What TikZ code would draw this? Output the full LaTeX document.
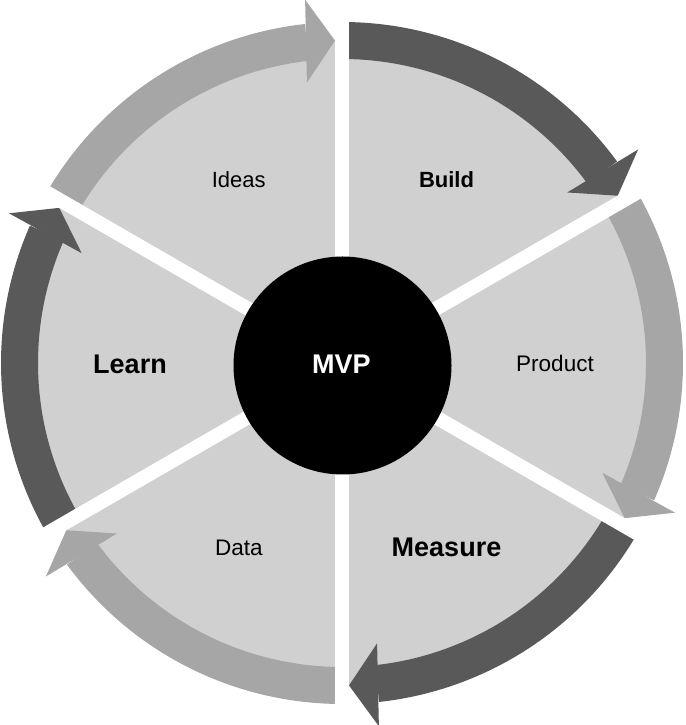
\documentclass[tikz,border=0pt]{standalone}
\usepackage{fontspec}
\setmainfont{Liberation Sans}
\usetikzlibrary{calc}
\definecolor{sectorgrey}{HTML}{D0D0D0}
\definecolor{bandlight}{HTML}{A6A6A6}
\definecolor{banddark}{HTML}{595959}
\newcommand{\Ro}{341}
\newcommand{\Ri}{304}
\newcommand{\Rm}{322.5}
\newcommand{\cyclearrow}[3]{%
  \pgfmathsetmacro\tipA{#2+1.244}%
  \pgfmathsetmacro\endA{#2+1.244+5}%
  \fill[#3] (#1:\Ro) arc[start angle=#1, end angle=\endA, radius=\Ro]
     -- (\endA:\Ri) arc[start angle=\endA, end angle=#1, radius=\Ri] -- cycle;
  \coordinate (tip) at (\tipA:\Rm);
  \coordinate (hb) at ($(tip)+(\tipA+90:29)$);
  \fill[#3] (tip) -- ($(hb)+(\tipA:41.5)$) -- ($(hb)+(\tipA+180:41.5)$) -- cycle;
}
\tikzset{
  lbl/.style={inner sep=0pt, anchor=base, text=black},
  small/.style={lbl, font=\fontsize{22pt}{26pt}\selectfont},
  smallb/.style={lbl, font=\fontsize{22pt}{26pt}\selectfont\bfseries},
  big/.style={lbl, font=\fontsize{27pt}{32pt}\selectfont\bfseries},
}
\begin{document}
\begin{tikzpicture}[x=1pt,y=1pt]
\useasboundingbox (0,0) rectangle (685,725);
\begin{scope}[shift={(342,362)}]
  % light grey disk (sectors)
  \fill[sectorgrey] (0,0) circle[radius=\Rm];
  % arrow bands
  \cyclearrow{150}{90}{bandlight}
  \cyclearrow{90}{30}{banddark}
  \cyclearrow{30}{-30}{bandlight}
  \cyclearrow{-30}{-90}{banddark}
  \cyclearrow{-90}{-150}{bandlight}
  \cyclearrow{210}{150}{banddark}
  % white gaps
  \foreach \a in {90,30,-30,-90,-150,150}
    \fill[white, rotate=\a] (0,-7) rectangle (420,7);
\end{scope}
% centre
\fill[black] (342.5,359.5) circle[radius=109];
\node[big, text=white] (mvp) at (341.3,351.7) {MVP};
\node[small] (ideas) at (238.7,537.7) {Ideas};
\node[smallb] (build) at (446.5,537.7) {Build};
\node[small, font=\fontsize{22.5pt}{26pt}\selectfont] (product) at (555,353.3) {Product};
\node[big] (measure) at (446.5,168.3) {Measure};
\node[small, font=\fontsize{22.5pt}{26pt}\selectfont] (data) at (238.8,169.3) {Data};
\node[big] (learn) at (130,351.7) {Learn};
\end{tikzpicture}
\end{document}
